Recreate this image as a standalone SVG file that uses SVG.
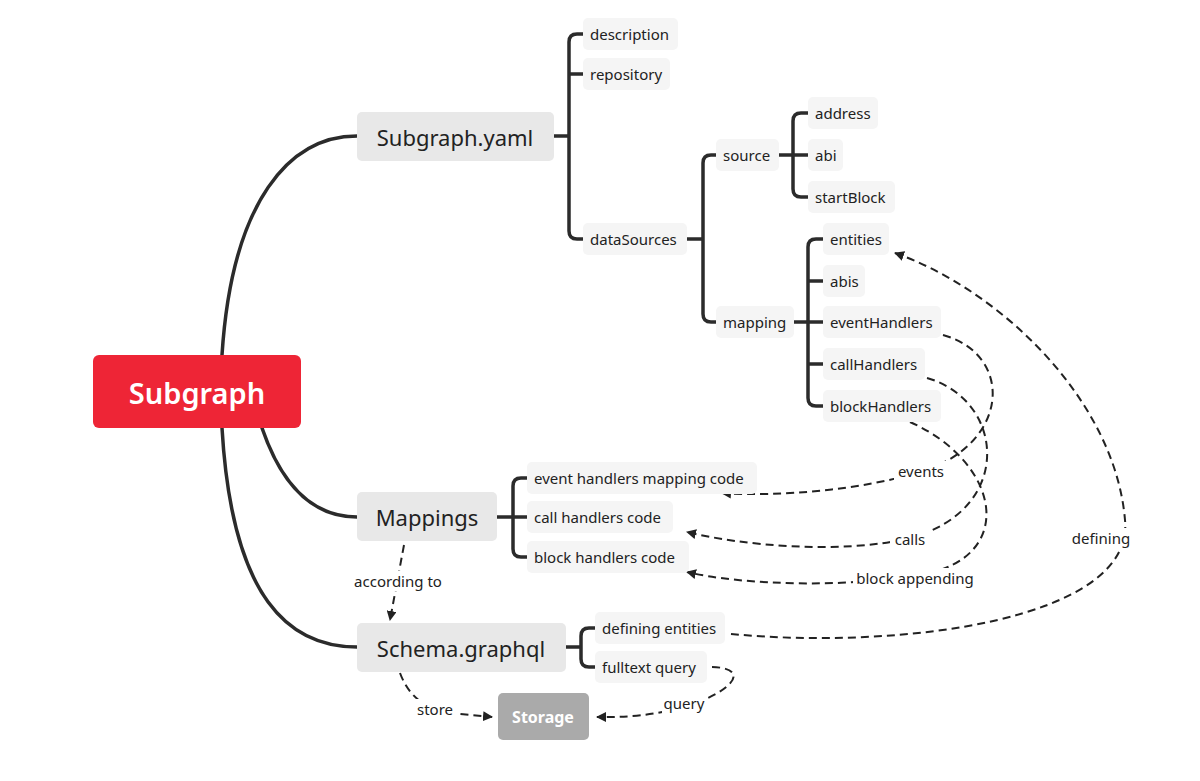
<svg xmlns="http://www.w3.org/2000/svg" width="1200" height="781" viewBox="0 0 1200 781">
<style>
text{font-family:"Noto Sans","Liberation Sans",sans-serif;fill:#222;dominant-baseline:central}
.main rect{fill:#E8E8E8}
.main text{font-size:22px;text-anchor:middle}
.sub rect{fill:#F5F5F5}
.sub text{font-size:15px}
.t{fill:none;stroke:#2b2b2b;stroke-width:3.5;stroke-linecap:round}
.d{fill:none;stroke:#222;stroke-width:2;stroke-dasharray:8 5;marker-end:url(#ah)}
.lbl{font-size:15px;text-anchor:middle}
</style>
<defs>
<marker id="ah" viewBox="0 0 10 10" refX="9" refY="5" markerWidth="5" markerHeight="5" orient="auto"><path d="M0,0L10,5L0,10z" fill="#222"/></marker>
</defs>
<rect width="1200" height="781" fill="#fff"/>
<g id="connectors">
<path class="t" d="M222,355 C232,200 290,136 357,136"/>
<path class="t" d="M262,428 C285,495 320,517 357,517"/>
<path class="t" d="M222,428 C232,600 290,647 357,647"/>
<path class="t" d="M554,136H569 M583,34H577Q569,34 569,42V231Q569,239 577,239H583 M569,74H583"/>
<path class="t" d="M687,239H703 M716,155H711Q703,155 703,163V314Q703,322 711,322H716"/>
<path class="t" d="M779,155H808 M808,113H801Q793,113 793,121V189Q793,197 801,197H808"/>
<path class="t" d="M794,322H823 M823,239H816Q808,239 808,247V398Q808,406 816,406H823 M808,281H823 M808,364H823"/>
<path class="t" d="M497,517H527 M527,478H521Q513,478 513,486V549Q513,557 521,557H527"/>
<path class="t" d="M566,647H581 M595,628H589Q581,628 581,636V659Q581,667 589,667H595"/>
<path class="d" d="M943,335 C1015,355 1010,445 920,472 C860,490 780,497 722,493"/>
<path class="d" d="M927,378 C1005,400 1015,510 910,538 C840,555 740,545 687,532"/>
<path class="d" d="M910,422 C995,460 1015,545 940,570 C860,590 740,585 687,572"/>
<path class="d" d="M731,634 C900,650 1135,620 1125,520 C1115,400 1000,290 895,253"/>
<path class="d" d="M712,667 C750,668 735,690 690,705 C650,717 625,717 597,717"/>
<path class="d" d="M400,673 C410,700 430,712 460,714 L492,717"/>
<path class="d" d="M404,545 L390,620"/>
<rect x="894" y="461" width="54" height="20" fill="#fff"/><text class="lbl" x="921" y="471">events</text>
<rect x="890" y="529" width="40" height="20" fill="#fff"/><text class="lbl" x="910" y="539">calls</text>
<rect x="853" y="568" width="124" height="20" fill="#fff"/><text class="lbl" x="915" y="578">block appending</text>
<rect x="1070" y="528" width="62" height="20" fill="#fff"/><text class="lbl" x="1101" y="538">defining</text>
<rect x="662" y="693" width="44" height="20" fill="#fff"/><text class="lbl" x="684" y="703">query</text>
<rect x="414" y="699" width="42" height="20" fill="#fff"/><text class="lbl" x="435" y="709">store</text>
<rect x="352" y="571" width="92" height="20" fill="#fff"/><text class="lbl" x="398" y="581">according to</text>
</g>
<g id="subgraph"><rect x="93" y="355" width="208" height="73" rx="6" fill="#EE2536"/><text x="197" y="392" style="font-size:29px;font-weight:600;fill:#fff;text-anchor:middle">Subgraph</text></g>
<g id="yaml" class="main"><rect x="357" y="112" width="197" height="49" rx="5"/><text x="455" y="137">Subgraph.yaml</text></g>
<g id="mappings" class="main"><rect x="357" y="492" width="140" height="49" rx="5"/><text x="427" y="517">Mappings</text></g>
<g id="schema" class="main"><rect x="357" y="623" width="209" height="49" rx="5"/><text x="461" y="648">Schema.graphql</text></g>
<g id="storage"><rect x="498" y="693" width="91" height="47" rx="5" fill="#AAAAAA"/><text x="543" y="717" style="font-size:16px;font-weight:bold;fill:#fff;text-anchor:middle">Storage</text></g>
<g id="description" class="sub"><rect x="583" y="18" width="95" height="32" rx="5"/><text x="590" y="34">description</text></g>
<g id="repository" class="sub"><rect x="583" y="58" width="87" height="32" rx="5"/><text x="590" y="74">repository</text></g>
<g id="dataSources" class="sub"><rect x="583" y="223" width="104" height="32" rx="5"/><text x="590" y="239">dataSources</text></g>
<g id="source" class="sub"><rect x="716" y="139" width="63" height="32" rx="5"/><text x="723" y="155">source</text></g>
<g id="mapping" class="sub"><rect x="716" y="306" width="78" height="32" rx="5"/><text x="723" y="322">mapping</text></g>
<g id="address" class="sub"><rect x="808" y="97" width="70" height="32" rx="5"/><text x="815" y="113">address</text></g>
<g id="abi" class="sub"><rect x="808" y="139" width="35" height="32" rx="5"/><text x="815" y="155">abi</text></g>
<g id="startBlock" class="sub"><rect x="808" y="181" width="87" height="32" rx="5"/><text x="815" y="197">startBlock</text></g>
<g id="entities" class="sub"><rect x="823" y="223" width="66" height="32" rx="5"/><text x="830" y="239">entities</text></g>
<g id="abis" class="sub"><rect x="823" y="265" width="42" height="32" rx="5"/><text x="830" y="281">abis</text></g>
<g id="eventHandlers" class="sub"><rect x="823" y="306" width="118" height="32" rx="5"/><text x="830" y="322">eventHandlers</text></g>
<g id="callHandlers" class="sub"><rect x="823" y="348" width="102" height="32" rx="5"/><text x="830" y="364">callHandlers</text></g>
<g id="blockHandlers" class="sub"><rect x="823" y="390" width="118" height="32" rx="5"/><text x="830" y="406">blockHandlers</text></g>
<g id="eventCode" class="sub"><rect x="527" y="462" width="230" height="32" rx="5"/><text x="534" y="478">event handlers mapping code</text></g>
<g id="callCode" class="sub"><rect x="527" y="501" width="146" height="32" rx="5"/><text x="534" y="517">call handlers code</text></g>
<g id="blockCode" class="sub"><rect x="527" y="541" width="162" height="32" rx="5"/><text x="534" y="557">block handlers code</text></g>
<g id="definingEntities" class="sub"><rect x="595" y="612" width="130" height="32" rx="5"/><text x="602" y="628">defining entities</text></g>
<g id="fulltextQuery" class="sub"><rect x="595" y="651" width="112" height="32" rx="5"/><text x="602" y="667">fulltext query</text></g>
</svg>
